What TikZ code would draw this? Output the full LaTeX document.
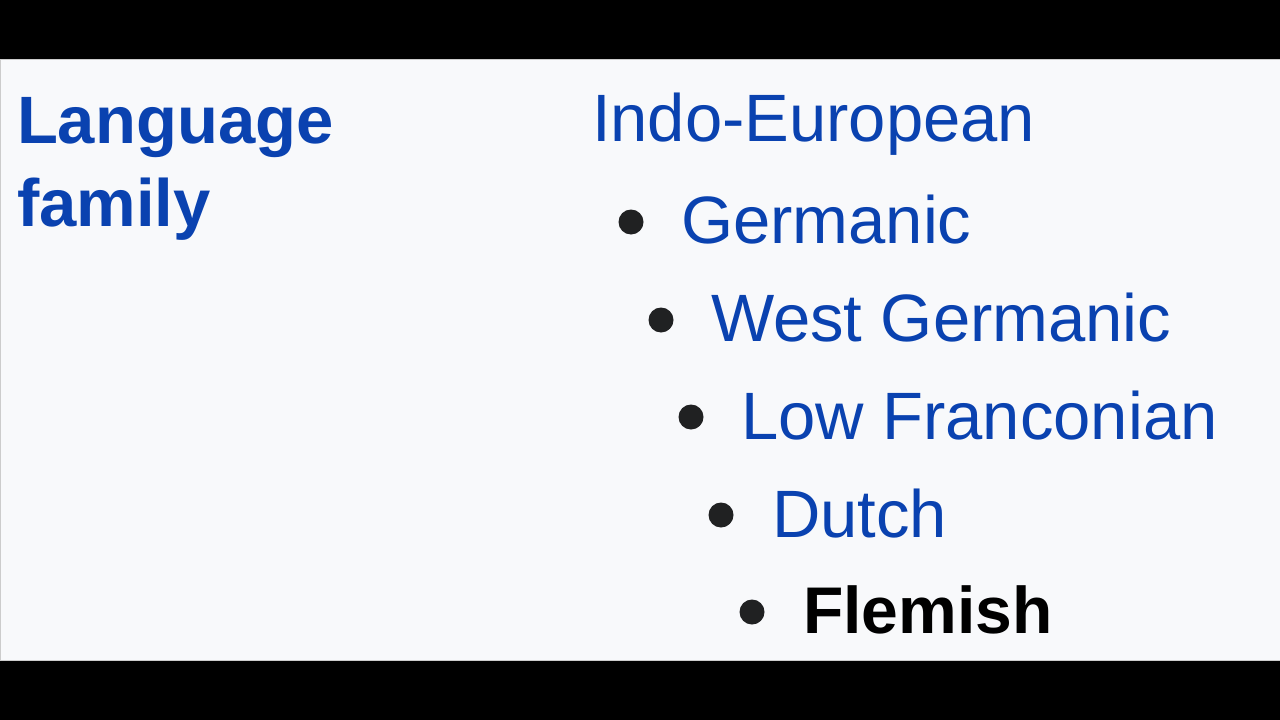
\documentclass[tikz,border=0pt]{standalone}
\usepackage{fontspec}
\setmainfont{Liberation Sans}
\definecolor{linkblue}{RGB}{10,66,176}
\definecolor{panelbg}{RGB}{248,249,251}
\definecolor{bulletgray}{RGB}{32,33,34}
\begin{document}
\begin{tikzpicture}[x=1pt,y=-1pt,
  item/.style={anchor=base west,inner sep=0pt,outer sep=0pt,font=\fontsize{67}{70}\selectfont},
  linkitem/.style={item,text=linkblue},
  bulletdot/.style={circle,fill=bulletgray,minimum size=25pt,inner sep=0pt}]
\useasboundingbox (0,0) rectangle (1280,720);
\fill[black] (0,0) rectangle (1280,720);
\fill[panelbg,draw=black!20,line width=1pt] (0.5,59.5) rectangle (1280,660);
% heading
\node[item,text=linkblue,font=\fontsize{67}{83}\selectfont\bfseries,align=left,anchor=north west] (head) at (17,97) {Language\\family};
% tree
\node[linkitem] (ie) at (592,141) {Indo-European};
\node[bulletdot] (b1) at (631,222) {};
\node[linkitem] (ger) at (681,243) {Germanic};
\node[bulletdot] (b2) at (661,320) {};
\node[linkitem] (wg) at (711,341) {West Germanic};
\node[bulletdot] (b3) at (691,417) {};
\node[linkitem] (lf) at (741,439) {Low Franconian};
\node[bulletdot] (b4) at (721,515) {};
\node[linkitem] (du) at (772,537) {Dutch};
\node[bulletdot] (b5) at (752,612) {};
\node[item,font=\fontsize{66}{70}\selectfont\bfseries,text=black] (fl) at (803,633) {Flemish};
\end{tikzpicture}
\end{document}
